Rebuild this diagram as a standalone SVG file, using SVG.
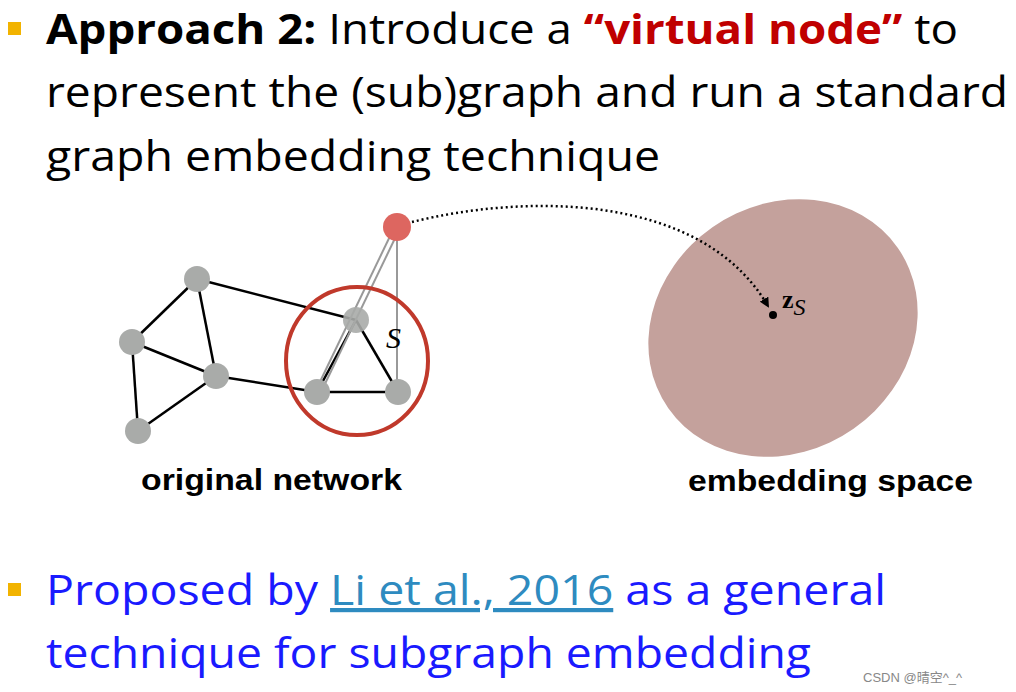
<svg xmlns="http://www.w3.org/2000/svg" width="1016" height="692" viewBox="0 0 1016 692">
<style>
.t{font-family:"Open Sans","Liberation Sans",sans-serif;font-size:42px;fill:#000}
.n{fill:#a9aba9}
.e{stroke:#000;stroke-width:2.5}
.g{stroke:#999;stroke-width:2}
.lbl{font-family:"Liberation Sans",Arial,sans-serif;font-weight:bold;font-size:29px}
</style>
<defs><marker id="ah" markerWidth="10" markerHeight="10" refX="8" refY="5" orient="auto" markerUnits="userSpaceOnUse"><path d="M0,0 L10,5 L0,10 z" fill="#000"/></marker></defs>
<rect width="1016" height="692" fill="#fff"/>
<rect x="8" y="22" width="13" height="13" fill="#f2b300"/>
<text class="t" x="46" y="44" textLength="912" lengthAdjust="spacingAndGlyphs"><tspan font-weight="bold">Approach 2:</tspan> Introduce a <tspan font-weight="bold" fill="#c00000">“virtual node”</tspan> to</text>
<text class="t" x="46" y="107" textLength="962" lengthAdjust="spacingAndGlyphs">represent the (sub)graph and run a standard</text>
<text class="t" x="46" y="171" textLength="614" lengthAdjust="spacingAndGlyphs">graph embedding technique</text>
<g id="space">
<ellipse cx="783" cy="328" rx="140" ry="123" transform="rotate(-35 783 328)" fill="#c4a19c"/>
<circle cx="773" cy="315" r="4" fill="#000"/>
<text x="782" y="308" font-family="'Liberation Serif',serif" font-size="26" font-weight="bold">z<tspan font-weight="normal" font-style="italic" font-size="24" dy="7">S</tspan></text>
</g>
<g id="edges">
<line class="e" x1="197" y1="279" x2="132" y2="342"/>
<line class="e" x1="197" y1="279" x2="216" y2="376"/>
<line class="e" x1="197" y1="279" x2="356" y2="320"/>
<line class="e" x1="132" y1="342" x2="216" y2="376"/>
<line class="e" x1="132" y1="342" x2="138" y2="431"/>
<line class="e" x1="138" y1="431" x2="216" y2="376"/>
<line class="e" x1="216" y1="376" x2="317" y2="392"/>
<line class="e" x1="356" y1="320" x2="317" y2="392"/>
<line class="e" x1="356" y1="320" x2="398" y2="392"/>
<line class="e" x1="317" y1="392" x2="398" y2="392"/>
<line class="g" x1="393" y1="230" x2="317" y2="388"/>
<line class="g" x1="399" y1="230" x2="322" y2="390"/>
<line class="g" x1="397" y1="230" x2="397" y2="392"/>
<path d="M412,222 C520,195 700,190 768,306" fill="none" stroke="#000" stroke-width="2.5" stroke-dasharray="2,3" marker-end="url(#ah)"/>
</g>
<ellipse cx="357" cy="361" rx="71" ry="74" fill="none" stroke="#c0392b" stroke-width="4"/>
<g id="n1"><circle class="n" cx="197" cy="279" r="13"/></g>
<g id="n2"><circle class="n" cx="132" cy="342" r="13"/></g>
<g id="n3"><circle class="n" cx="216" cy="376" r="13"/></g>
<g id="n4"><circle class="n" cx="138" cy="431" r="13"/></g>
<g id="n5"><circle class="n" cx="356" cy="320" r="13" opacity="0.9"/></g>
<g id="n6"><circle class="n" cx="317" cy="392" r="13"/></g>
<g id="n7"><circle class="n" cx="398" cy="392" r="13"/></g>
<g id="vn"><circle cx="397" cy="227" r="14" fill="#dd6660"/></g>
<text x="386" y="348" font-family="'Liberation Serif',serif" font-style="italic" font-size="30">S</text>
<text class="lbl" x="141" y="490" textLength="261" lengthAdjust="spacingAndGlyphs">original network</text>
<text class="lbl" x="688" y="491" textLength="285" lengthAdjust="spacingAndGlyphs">embedding space</text>
<rect x="8" y="583" width="13" height="13" fill="#f2b300"/>
<text class="t" x="46" y="605" style="fill:#1a1aff" textLength="840" lengthAdjust="spacingAndGlyphs">Proposed by <tspan style="fill:#2e8bc0" text-decoration="underline">Li et al., 2016</tspan> as a general</text>
<text class="t" x="46" y="668" style="fill:#1a1aff" textLength="765" lengthAdjust="spacingAndGlyphs">technique for subgraph embedding</text>
<text x="863" y="682" font-family="'Liberation Sans','Noto Sans CJK SC',sans-serif" font-size="13" fill="#888">CSDN @晴空^_^</text>
</svg>
